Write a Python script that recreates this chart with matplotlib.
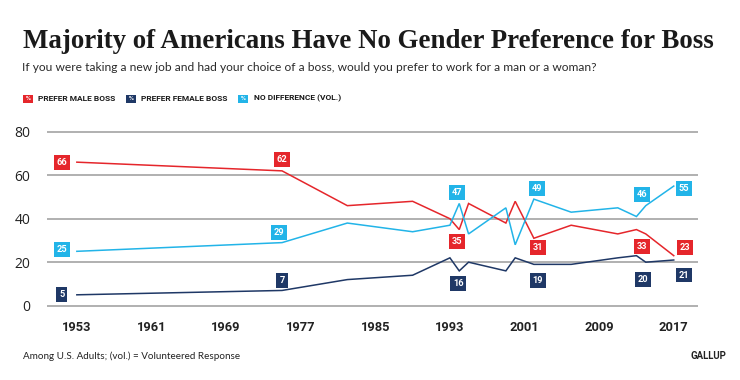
import matplotlib
matplotlib.use("Agg")
import matplotlib.pyplot as plt
from matplotlib.patches import Rectangle

# ---------------- data ----------------
years = [1953, 1975, 1982, 1989, 1993, 1994, 1995, 1999, 2000, 2002, 2006, 2011, 2013, 2014, 2017]
male = [66, 62, 46, 48, 40, 35, 47, 38, 48, 31, 37, 33, 35, 33, 23]
female = [5, 7, 12, 14, 22, 16, 20, 16, 22, 19, 19, 22, 23, 20, 21]
nodiff = [25, 29, 38, 34, 37, 47, 33, 45, 28, 49, 43, 45, 41, 46, 55]
series_names = ["PREFER MALE BOSS", "PREFER FEMALE BOSS", "NO DIFFERENCE (VOL.)"]
x_ticks = [1953, 1961, 1969, 1977, 1985, 1993, 2001, 2009, 2017]
y_ticks = [0, 20, 40, 60, 80]

title = "Majority of Americans Have No Gender Preference for Boss"
subtitle = "If you were taking a new job and had your choice of a boss, would you prefer to work for a man or a woman?"
footer = "Among U.S. Adults; (vol.) = Volunteered Response"
brand = "GALLUP"

# ---------------- style ----------------
RED = "#e5262b"
NAVY = "#1f3866"
LIGHT = "#22b4e8"
colors = [RED, NAVY, LIGHT]
GRID = "#a3a3a3"
NARROW = ["Lato", "Liberation Sans", "DejaVu Sans"]
BOLDF = ["Roboto", "Liberation Sans", "DejaVu Sans"]

W, H = 740, 380
fig = plt.figure(figsize=(W / 100, H / 100), dpi=100)
fig.patch.set_facecolor("white")


def fx(px):
    return px / W


def fy(py):
    return 1 - py / H


# axes: gridlines from x=47 to 698, y=0 at 305.7, 80 at 131.7
ax = fig.add_axes([fx(47), fy(312.2), fx(698) - fx(47), (312.2 - 125.2) / H])
ax.set_xlim(1949.8, 2019.6)
ax.set_ylim(-3, 83)
for s in ax.spines.values():
    s.set_visible(False)
ax.set_yticks(y_ticks)
ax.set_xticks(x_ticks)
ax.set_xticklabels([str(x) for x in x_ticks])
ax.tick_params(axis="both", length=0)
ax.tick_params(axis="y", pad=12, labelsize=10, labelcolor="#222222")
ax.tick_params(axis="x", pad=6, labelsize=9.3, labelcolor="#222222")
for lab in ax.get_yticklabels():
    lab.set_fontfamily(["Open Sans", "DejaVu Sans"])
for lab in ax.get_xticklabels():
    lab.set_fontfamily(BOLDF)
    lab.set_fontweight("bold")
ax.grid(axis="y", color=GRID, linewidth=1.2)
ax.grid(axis="x", visible=False)
ax.set_axisbelow(True)

all_series = [male, female, nodiff]
for vals, c in zip(all_series, colors):
    ax.plot(years, vals, color=c, linewidth=1.1, clip_on=False, zorder=3, solid_joinstyle="miter")

# value labels: (series index, year, dx px, dy px)
labels = [
    (0, 1953, -15, 0), (2, 1953, -15, 2), (1, 1953, -15, 0),
    (0, 1975, 0, 11), (2, 1975, -3, 10), (1, 1975, 0, 10),
    (2, 1994, -2, 11), (0, 1994, -2, -12), (1, 1994, -1, -13),
    (2, 2002, 3, 11), (0, 2002, 4, -9), (1, 2002, 4, -16),
    (2, 2014, -4, 11), (0, 2014, -4, -13), (1, 2014, -3, -17),
    (2, 2017, 10, -2), (0, 2017, 11, 8), (1, 2017, 10, -15),
]
for si, yr, dx, dy in labels:
    v = all_series[si][years.index(yr)]
    ax.annotate(str(v), xy=(yr, v), xytext=(dx * 0.72, dy * 0.72), textcoords="offset points",
                ha="center", va="center", fontsize=6.6, fontweight="bold", color="white",
                family=BOLDF, zorder=5, annotation_clip=False,
                bbox=dict(boxstyle="square,pad=0.32", fc=colors[si], ec="none"))

# ---------------- header / footer text ----------------
t_title = fig.text(fx(23), fy(48), title, fontsize=18, fontweight="bold",
                   family=["Liberation Serif", "DejaVu Serif"], color="#1a1a1a", va="baseline")
t_sub = fig.text(fx(22), fy(71), subtitle, fontsize=9.5, family=NARROW, color="#2a2a2a", va="baseline")
t_foot = fig.text(fx(23), fy(356), footer, fontsize=8, family=NARROW, color="#222222", va="center")
t_brand = fig.text(fx(726), fy(356), brand, fontsize=8, family=BOLDF, fontweight="bold",
                   color="#222222", va="center", ha="right")

# legend
leg_items = [(23, 38), (126, 141), (238, 254)]
for (sx, tx), name, c in zip(leg_items, series_names, colors):
    fig.patches.append(Rectangle((fx(sx), fy(102.5)), 10 / W, 8 / H, transform=fig.transFigure,
                                 facecolor=c, edgecolor="none"))
    fig.text(fx(sx + 5), fy(98.5), "%", fontsize=3.5, color="white", ha="center", va="center",
             fontweight="bold")
    fig.text(fx(tx), fy(98.5), name, fontsize=6.0, fontweight="bold", family=BOLDF,
             color="#1a1a1a", va="center")


def fit(t, target_w):
    for _ in range(3):
        fig.canvas.draw()
        bb = t.get_window_extent(renderer=fig.canvas.get_renderer())
        if bb.width > 0:
            t.set_fontsize(t.get_fontsize() * target_w / bb.width)


fit(t_title, 713 - 23)
fit(t_sub, 597 - 22)
fit(t_foot, 240 - 23)
fit(t_brand, 726 - 690)

fig.savefig("out.png", dpi=100, facecolor="white")
